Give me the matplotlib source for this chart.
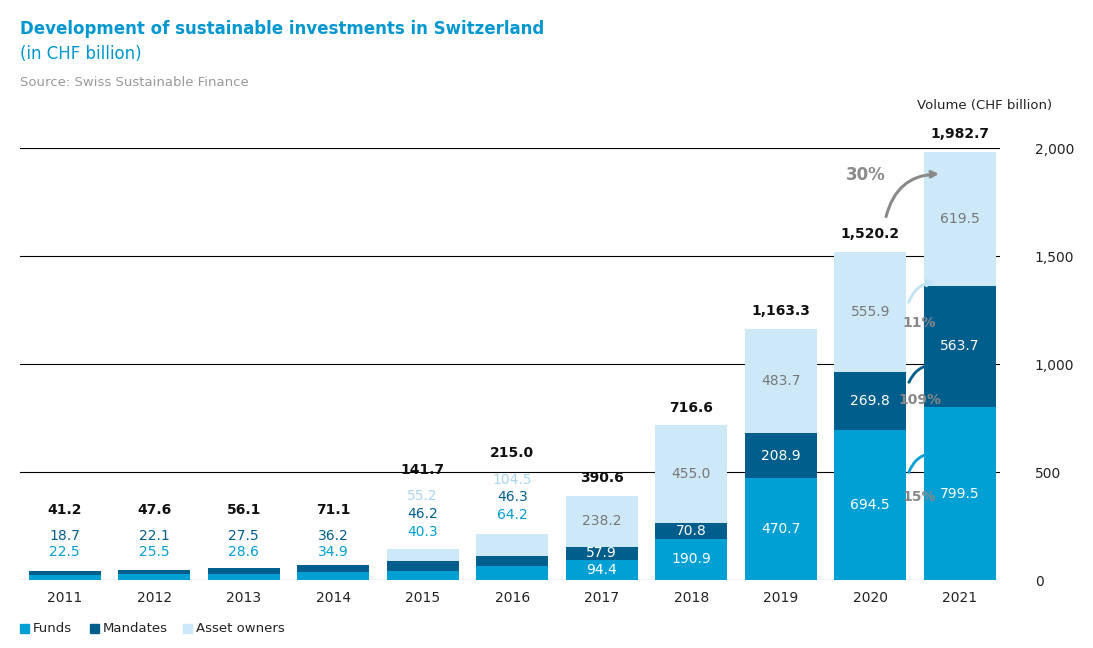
import matplotlib.pyplot as plt
from matplotlib.patches import Rectangle

years = ['2011', '2012', '2013', '2014', '2015', '2016', '2017', '2018', '2019', '2020', '2021']
funds = [22.5, 25.5, 28.6, 34.9, 40.3, 64.2, 94.4, 190.9, 470.7, 694.5, 799.5]
mandates = [18.7, 22.1, 27.5, 36.2, 46.2, 46.3, 57.9, 70.8, 208.9, 269.8, 563.7]
owners = [0, 0, 0, 0, 55.2, 104.5, 238.2, 455.0, 483.7, 555.9, 619.5]
totals = [41.2, 47.6, 56.1, 71.1, 141.7, 215.0, 390.6, 716.6, 1163.3, 1520.2, 1982.7]

c_f, c_m, c_o = '#009fd4', '#005e8c', '#cde9f8'
title_c = '#0096d0'
fs = 10

fig = plt.figure(figsize=(10.93, 6.48), dpi=100)
ax = fig.add_axes([20/1093, 68/648, 980/1093, 432/648])
x = range(len(years))
w = 0.8
ax.bar(x, funds, w, color=c_f)
ax.bar(x, mandates, w, bottom=funds, color=c_m)
base2 = [f + m for f, m in zip(funds, mandates)]
ax.bar(x, owners, w, bottom=base2, color=c_o)

ax.set_xlim(-0.5, 10.45)
ax.set_ylim(0, 2000)
for v in [0, 500, 1000, 1500, 2000]:
    ax.axhline(v, color='black', lw=0.8, zorder=0)
for s in ax.spines.values():
    s.set_visible(False)
ax.yaxis.tick_right()
ax.set_yticks([0, 500, 1000, 1500, 2000])
ax.set_yticklabels(['0', '500', '1,000', '1,500', '2,000'])
ax.tick_params(axis='y', length=0, pad=25, labelsize=fs, colors='#222')
ax.set_xticks(list(x))
ax.set_xticklabels(years)
ax.tick_params(axis='x', length=0, pad=8, labelsize=fs, colors='#222')

def fmt(v):
    return f'{v:,.1f}'

# small bars: labels stacked above
for i in range(6):
    if owners[i]:
        ys = [509, 389, 306, 222] if i == 4 else [588, 463, 384, 301]
        ax.text(i, ys[1], fmt(owners[i]), color='#a8d6f0', ha='center', va='center', fontsize=fs)
        ax.text(i, ys[2], fmt(mandates[i]), color=c_m, ha='center', va='center', fontsize=fs)
        ax.text(i, ys[3], fmt(funds[i]), color=c_f, ha='center', va='center', fontsize=fs)
        ax.text(i, ys[0], fmt(totals[i]), color='#111', ha='center', va='center', fontsize=fs, fontweight='semibold')
    else:
        ax.text(i, 324, fmt(totals[i]), color='#111', ha='center', va='center', fontsize=fs, fontweight='semibold')
        ax.text(i, 204, fmt(mandates[i]), color=c_m, ha='center', va='center', fontsize=fs)
        ax.text(i, 130, fmt(funds[i]), color=c_f, ha='center', va='center', fontsize=fs)

# larger bars: labels inside
for i in range(6, 11):
    ax.text(i, funds[i] / 2 if i > 6 else 45, fmt(funds[i]), color='white', ha='center', va='center', fontsize=fs)
    ax.text(i, funds[i] + mandates[i] / 2, fmt(mandates[i]), color='white', ha='center', va='center', fontsize=fs)
    ax.text(i, base2[i] + owners[i] / 2, fmt(owners[i]), color='#777', ha='center', va='center', fontsize=fs)
    top = base2[i] + owners[i]
    ax.text(i, top + 80, fmt(totals[i]), color='#111', ha='center', va='center', fontsize=fs, fontweight='semibold')

# growth arrows
ax.annotate('', xy=(9.8, 1880), xytext=(9.17, 1670),
            arrowprops=dict(arrowstyle='->', color='#8a8a8a', lw=2.2, connectionstyle='arc3,rad=-0.4'))
ax.text(8.95, 1875, '30%', color='#8a8a8a', ha='center', va='center', fontsize=12, fontweight='bold')
for y0, y1, yt, lab, col in [(486, 588, 384, '15%', c_f), (903, 995, 833, '109%', c_m),
                             (1273, 1380, 1190, '11%', '#bfe2f5')]:
    ax.annotate('', xy=(9.75, y1), xytext=(9.42, y0),
                arrowprops=dict(arrowstyle='->', color=col, lw=2, connectionstyle='arc3,rad=-0.35'))
    ax.text(9.55, yt, lab, color='#888', ha='center', va='center', fontsize=fs, fontweight='semibold')

fig.text(20/1093, 1 - 29/648, 'Development of sustainable investments in Switzerland',
         color=title_c, fontsize=12, fontweight='bold', va='center')
fig.text(20/1093, 1 - 54/648, '(in CHF billion)', color=title_c, fontsize=12, va='center')
fig.text(20/1093, 1 - 82/648, 'Source: Swiss Sustainable Finance', color='#999', fontsize=9.5, va='center')
fig.text(1052/1093, 1 - 106/648, 'Volume (CHF billion)', color='#222', fontsize=9.5, ha='right', va='center')

lx = 20
for lab, col, dx in [('Funds', c_f, 0), ('Mandates', c_m, 70), ('Asset owners', c_o, 163)]:
    fig.patches.append(Rectangle(((lx + dx) / 1093, 1 - 633/648), 9/1093, 9/648,
                                 transform=fig.transFigure, color=col))
    fig.text((lx + dx + 13) / 1093, 1 - 628/648, lab, color='#222', fontsize=9.5, va='center')

fig.savefig('out.png', dpi=100)
